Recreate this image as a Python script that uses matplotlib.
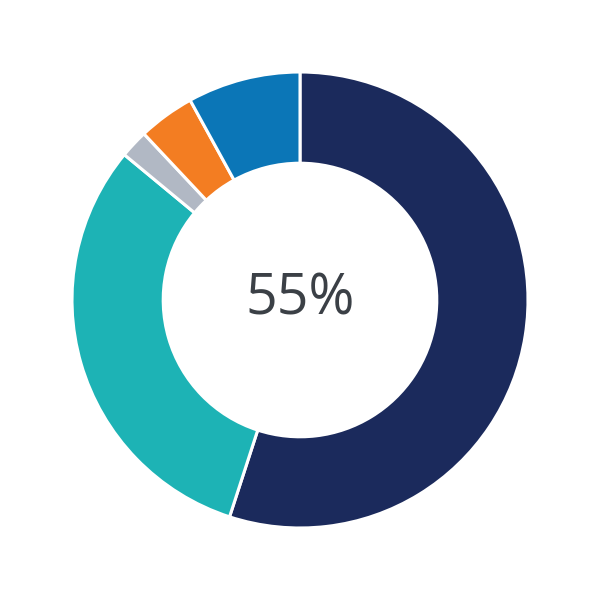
import matplotlib.pyplot as plt

labels = ["Navy", "Teal", "Gray", "Orange", "Blue"]
values = [55, 31, 2, 4, 8]
colors = ["#1b2a5c", "#1db3b5", "#b1b8c4", "#f37d22", "#0b76b7"]
center_text = "55%"

fig = plt.figure(figsize=(6, 6), dpi=100)
ax = fig.add_axes([0, 0, 1, 1])

ax.pie(values, colors=colors, startangle=90, counterclock=False,
       radius=1.0, center=(0, 0),
       wedgeprops=dict(width=0.40, edgecolor="white", linewidth=2.2))

ax.text(0, 0, center_text, ha="center", va="center", fontsize=40,
        color="#3b4046", family="Open Sans")

lim = 300 / 228
ax.set_xlim(-lim, lim)
ax.set_ylim(-lim, lim)
ax.set_aspect("equal")
ax.axis("off")

plt.savefig("out.png", dpi=100)
